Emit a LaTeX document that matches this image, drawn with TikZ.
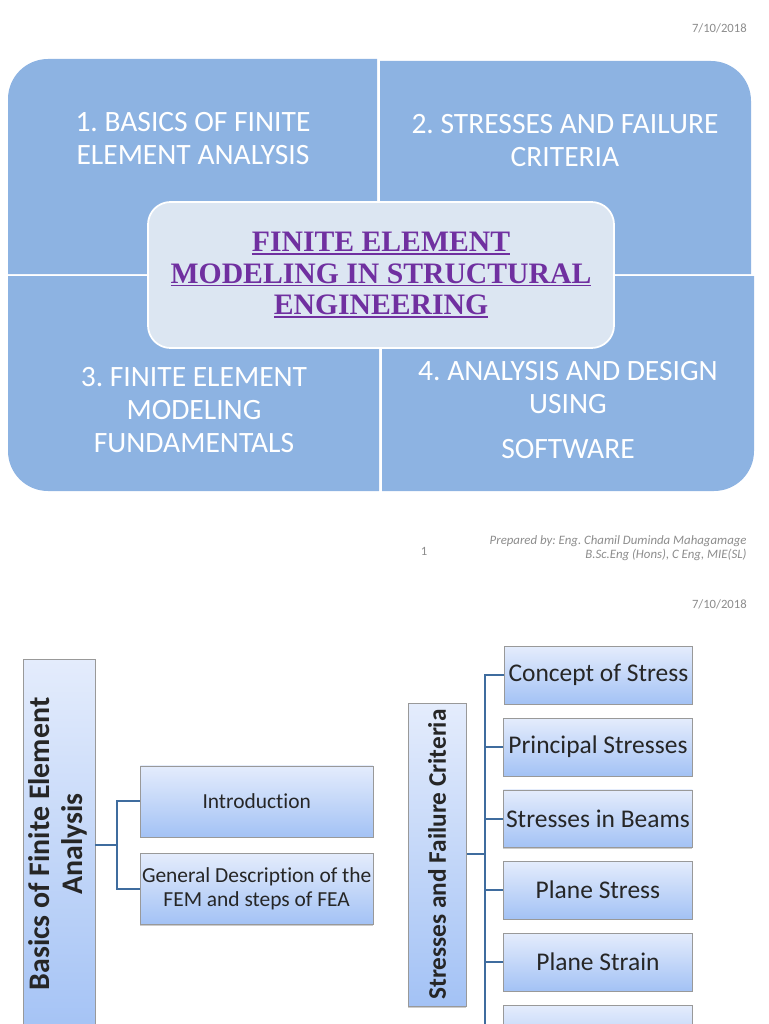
\documentclass[tikz,border=0pt]{standalone}
\usepackage{fontspec}
\setmainfont{Carlito}[Ligatures=NoCommon]
\newfontfamily\titlefont{Liberation Serif}
\usetikzlibrary{positioning,shadows}
\definecolor{tileblue}{HTML}{8DB3E2}
\definecolor{hubfill}{HTML}{DCE6F2}
\definecolor{hubtext}{HTML}{7030A0}
\definecolor{linkblue}{HTML}{3F6C9E}
\definecolor{boxtop}{HTML}{E4ECFC}
\definecolor{boxbot}{HTML}{A3C2F5}
\newcommand{\hubline}[1]{\leavevmode\vtop{\hbox{#1}\kern.9pt\hrule height .8pt}}
\frenchspacing
\tikzset{
	tiletext/.style={text=white,align=center,font=\fontsize{16.8pt}{18.8pt}\selectfont},
	subbox/.style={draw=black!40,line width=.5pt,top color=boxtop,bottom color=boxbot,
		drop shadow={shadow xshift=0pt,shadow yshift=-.8pt,opacity=.4},
		anchor=north west,align=center,inner sep=0pt,text=black!85},
	link/.style={draw=linkblue,line width=1.1pt},
	smallgrey/.style={text=black!45,inner sep=0pt,font=\fontsize{7.2pt}{8.6pt}\selectfont}
}
\begin{document}
\begin{tikzpicture}[x=.02cm,y=-.02cm]
	\useasboundingbox (0,0) rectangle (768,1024);
	\clip (0,0) rectangle (768,1024);
	
	\node[smallgrey,anchor=east] (date1) at (747,28){7/10/2018};
	
	% four tiles
	\fill[tileblue] (377,59) -- (377,274) -- (8,274) -- (8,99) to [out=90, in=180] (48,59) -- cycle;
	\fill[tileblue] (380,61) -- (711,61) to [out=0, in=90] (751,101) -- (751,274) -- (380,274) -- cycle;
	\fill[tileblue] (379,276) -- (379,491) -- (48,491) to [out=180, in=-90] (8,451) -- (8,276) -- cycle;
	\fill[tileblue] (382,276) -- (754,276) -- (754,451) to [out=-90, in=0] (714,491) -- (382,491) -- cycle;
	
	\node[tiletext] (basics) at (193,138.5){1. BASICS OF FINITE\\ELEMENT ANALYSIS};
	\node[tiletext] (stresses) at (565,140.5){2. STRESSES AND FAILURE\\CRITERIA};
	\node[tiletext] (fundamentals) at (194,410){3. FINITE ELEMENT\\MODELING\\FUNDAMENTALS};
	\node[tiletext] (software) at (568,410){4. ANALYSIS AND DESIGN\\USING\\[6.5pt]SOFTWARE};
	
	\node[draw=white,line width=1pt,fill=hubfill,rounded corners=.45cm,minimum width=466*.02cm,minimum height=146*.02cm,
		text=hubtext,align=center,inner sep=0pt,font=\titlefont\bfseries\fontsize{16.9pt}{17.9pt}\selectfont] (hub) at (381,275)
		{\hubline{FINITE ELEMENT}\\\hubline{MODELING IN STRUCTURAL}\\\hubline{ENGINEERING}};
	
	\node[smallgrey,anchor=center] (page) at (424,551){1};
	\node[smallgrey,anchor=north east,align=right,font=\itshape\fontsize{7.3pt}{8.3pt}\selectfont] (prepared) at (747,535)
		{Prepared by: Eng. Chamil Duminda Mahagamage\\B.Sc.Eng (Hons), C Eng, MIE(SL)};
	\node[smallgrey,anchor=east] (date2) at (747,604){7/10/2018};
	
	% left tree
	\node[subbox,minimum width=71.5*.02cm,minimum height=380*.02cm] (basicsbar) at (23,659){};
	\node[rotate=90,align=center,text=black!85,font=\bfseries\fontsize{17pt}{18.8pt}\selectfont] (basicslabel) at (58,844)
		{Basics of Finite Element\\Analysis};
	\node[subbox,minimum width=232.5*.02cm,minimum height=71*.02cm,font=\fontsize{12.2pt}{13.7pt}\selectfont] (intro) at (140,765.5){Introduction};
	\node[subbox,minimum width=232.5*.02cm,minimum height=71*.02cm,font=\fontsize{12.2pt}{13.7pt}\selectfont] (general) at (140,853)
		{General Description of the\\FEM and steps of FEA};
	\coordinate (basicsjoin) at (117,845);
	\draw[link] (basicsbar.east |- basicsjoin) -- (basicsjoin);
	\draw[link] (intro.west) -| (basicsjoin) |- (general.west);
	
	% right tree
	\node[subbox,minimum width=58*.02cm,minimum height=303*.02cm] (stressbar) at (408,703){};
	\node[rotate=90,text=black!85,font=\bfseries\fontsize{14.4pt}{16pt}\selectfont] (stresslabel) at (437,854.5){Stresses and Failure Criteria};
	\node[subbox,minimum width=188*.02cm,minimum height=57.5*.02cm,font=\fontsize{14.5pt}{16pt}\selectfont] (concept) at (504,646){Concept of Stress};
	\node[subbox,minimum width=189*.02cm,minimum height=57.5*.02cm,font=\fontsize{14.5pt}{16pt}\selectfont] (principal) at (503,718){Principal Stresses};
	\node[subbox,minimum width=189*.02cm,minimum height=57.5*.02cm,font=\fontsize{14.5pt}{16pt}\selectfont] (beams) at (503,789.5){Stresses in Beams};
	\node[subbox,minimum width=189*.02cm,minimum height=57.5*.02cm,font=\fontsize{14.5pt}{16pt}\selectfont] (planestress) at (503,861){Plane Stress};
	\node[subbox,minimum width=189*.02cm,minimum height=57.5*.02cm,font=\fontsize{14.5pt}{16pt}\selectfont] (planestrain) at (503,933){Plane Strain};
	\node[subbox,minimum width=189*.02cm,minimum height=57.5*.02cm,font=\fontsize{14.5pt}{16pt}\selectfont] (shells) at (503,1005){Plates \& Shells};
	\coordinate (stressjoin) at (485,854);
	\coordinate (stressend) at (485,1024);
	\draw[link] (stressbar.east |- stressjoin) -- (stressjoin);
	\draw[link] (concept.west) -| (stressend);
	\foreach \boxname in {principal,beams,planestress,planestrain}
		\draw[link] (\boxname.west) -- (stressjoin |- \boxname.west);
\end{tikzpicture}
\end{document}
